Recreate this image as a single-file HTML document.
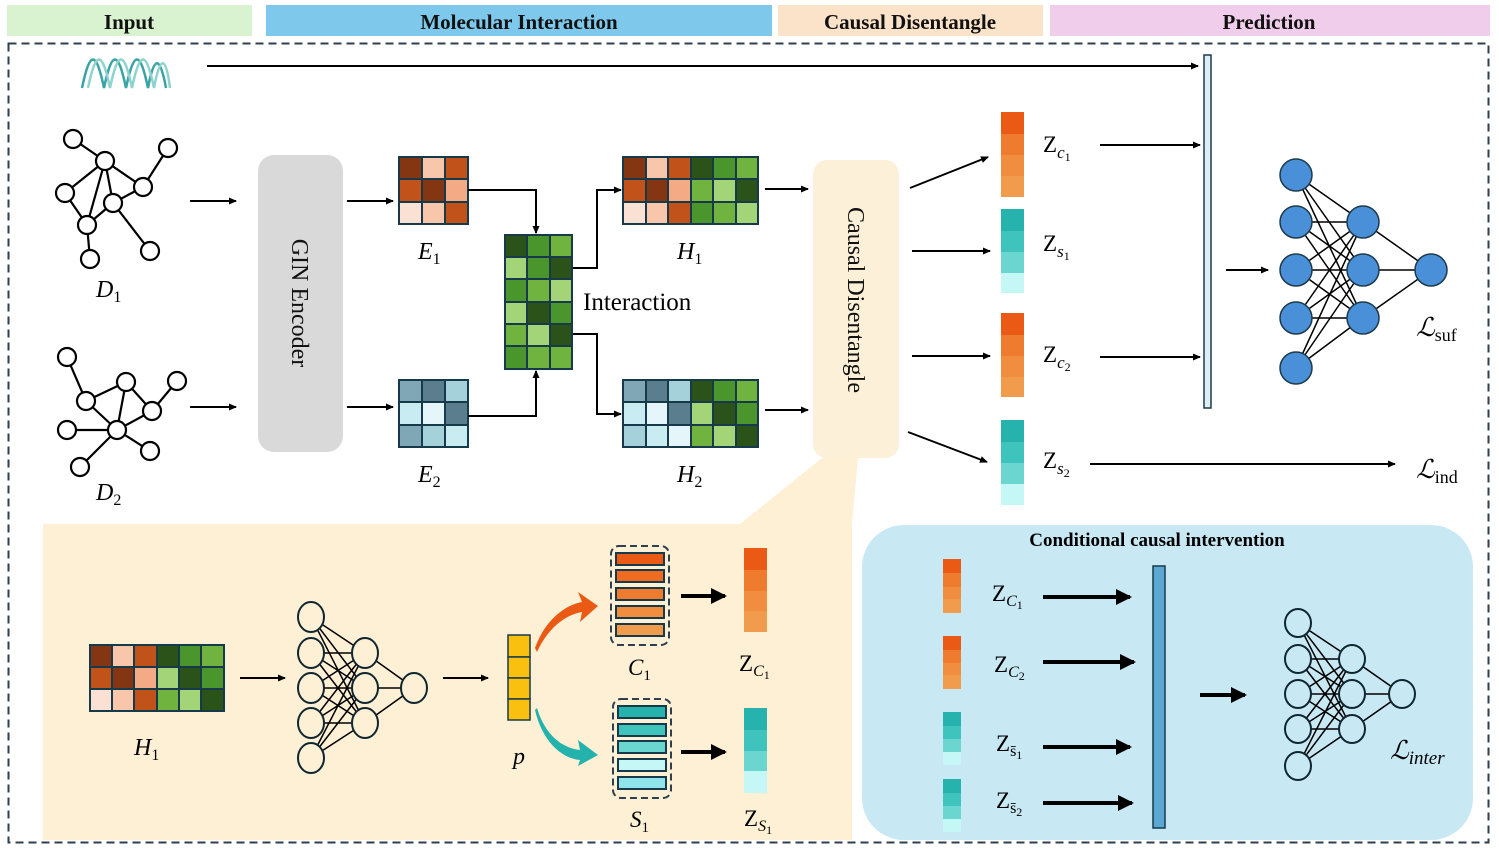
<!DOCTYPE html>
<html><head><meta charset="utf-8"><style>
html,body{margin:0;padding:0;background:#fff;}
svg{display:block;}
text{font-family:"Liberation Serif",serif;}
.it{font-style:italic;}
</style></head><body>
<svg width="1499" height="856" viewBox="0 0 1499 856" xmlns="http://www.w3.org/2000/svg">
<defs>
<marker id="a" markerWidth="8" markerHeight="8" refX="7" refY="4" orient="auto" markerUnits="userSpaceOnUse"><path d="M0,0.5 L8,4 L0,7.5 z" fill="#000"/></marker>
<marker id="b" markerWidth="16" markerHeight="16" refX="14" refY="8" orient="auto" markerUnits="userSpaceOnUse"><path d="M0,0 L16,8 L0,16 z" fill="#000"/></marker>
</defs>
<!-- header -->
<rect x="7" y="5" width="245" height="31" fill="#d9f2d0"/>
<rect x="266" y="5" width="506" height="31" fill="#7ec8ec"/>
<rect x="778" y="5" width="265" height="31" fill="#fbe3c9"/>
<rect x="1050" y="5" width="440" height="31" fill="#f0cdea"/>
<g font-weight="bold" font-size="21" text-anchor="middle" fill="#111">
<text x="129" y="29">Input</text><text x="519" y="29">Molecular Interaction</text>
<text x="910" y="29">Causal Disentangle</text><text x="1269" y="29">Prediction</text></g>
<rect x="8.5" y="43.5" width="1480" height="799" fill="none" stroke="#2f3f4f" stroke-width="2" stroke-dasharray="8,5"/>

<!-- bottom peach panel -->
<path d="M43,524 L740,524 L822,458 L858,458 L852,524 L852,840 L43,840 Z" fill="#fdf0d5"/>

<!-- wave -->
<g fill="none" stroke-width="2.5">
<path d="M82,88 C90,50 96,50 104,88 C112,50 118,50 126,88 C134,50 140,50 148,88 C154,55 160,55 166,88" stroke="#3aa3a3"/>
<path d="M88,88 C96,50 102,50 110,88 C118,50 124,50 132,88 C140,50 146,50 154,88 C160,55 166,55 170,88" stroke="#8fd3cf"/>
</g>
<line x1="207" y1="66" x2="1198" y2="66" stroke="#000" stroke-width="2" marker-end="url(#a)"/>

<!-- graphs -->
<g stroke="#000" stroke-width="2.2" fill="#fff">
<path d="M73,139L105,161 M105,161L65,193 M105,161L87,225 M105,161L113,203 M105,161L143,187 M143,187L168,148 M65,193L87,225 M87,225L90,259 M87,225L113,203 M113,203L143,187 M113,203L150,251"/>
<circle cx="73" cy="139" r="9"/><circle cx="105" cy="161" r="9"/><circle cx="168" cy="148" r="9"/><circle cx="65" cy="193" r="9"/><circle cx="143" cy="187" r="9"/><circle cx="113" cy="203" r="9"/><circle cx="87" cy="225" r="9"/><circle cx="90" cy="259" r="9"/><circle cx="150" cy="251" r="9"/>
<path d="M67,357L86,401 M86,401L126,382 M86,401L117,430 M126,382L117,430 M126,382L152,411 M152,411L177,381 M117,430L152,411 M67,430L117,430 M117,430L150,451 M117,430L80,467"/>
<circle cx="67" cy="357" r="9"/><circle cx="86" cy="401" r="9"/><circle cx="126" cy="382" r="9"/><circle cx="177" cy="381" r="9"/><circle cx="152" cy="411" r="9"/><circle cx="67" cy="430" r="9"/><circle cx="117" cy="430" r="9"/><circle cx="150" cy="451" r="9"/><circle cx="80" cy="467" r="9"/>
</g>
<text x="96" y="297" font-size="24" class="it">D<tspan font-size="16" dy="5" font-style="normal">1</tspan></text>
<text x="96" y="500" font-size="24" class="it">D<tspan font-size="16" dy="5" font-style="normal">2</tspan></text>

<g stroke="#000" stroke-width="2" marker-end="url(#a)">
<line x1="190" y1="201" x2="236" y2="201"/><line x1="190" y1="407" x2="236" y2="407"/>
<line x1="347" y1="201" x2="393" y2="201"/><line x1="347" y1="407" x2="393" y2="407"/>
<line x1="765" y1="189" x2="808" y2="189"/><line x1="765" y1="410" x2="808" y2="410"/>
</g>
<!-- GIN -->
<rect x="258" y="155" width="85" height="297" rx="16" fill="#d9d9d9"/>
<text transform="translate(292,303) rotate(90)" text-anchor="middle" font-size="24" fill="#111">GIN Encoder</text>

<!-- E1 -->
<g stroke="#173a4a" stroke-width="2">
<rect x="399" y="157" width="23" height="22" fill="#843511"/><rect x="422" y="157" width="23" height="22" fill="#f7c6ab"/><rect x="445" y="157" width="23" height="22" fill="#c0521a"/>
<rect x="399" y="179" width="23" height="23" fill="#c0521a"/><rect x="422" y="179" width="23" height="23" fill="#843511"/><rect x="445" y="179" width="23" height="23" fill="#f3aa85"/>
<rect x="399" y="202" width="23" height="22" fill="#fbe1d4"/><rect x="422" y="202" width="23" height="22" fill="#f7c6ab"/><rect x="445" y="202" width="23" height="22" fill="#c0521a"/>
<!-- E2 -->
<rect x="399" y="380" width="23" height="22" fill="#7fa7b6"/><rect x="422" y="380" width="23" height="22" fill="#5b7e8f"/><rect x="445" y="380" width="23" height="22" fill="#a5d2da"/>
<rect x="399" y="402" width="23" height="23" fill="#c9ecf2"/><rect x="422" y="402" width="23" height="23" fill="#e4f6f9"/><rect x="445" y="402" width="23" height="23" fill="#5b7e8f"/>
<rect x="399" y="425" width="23" height="22" fill="#7fa7b6"/><rect x="422" y="425" width="23" height="22" fill="#a5d2da"/><rect x="445" y="425" width="23" height="22" fill="#c9ecf2"/>
<!-- Interaction -->
<rect x="505" y="235" width="22" height="22" fill="#2b5218"/><rect x="527" y="235" width="23" height="22" fill="#4b962c"/><rect x="550" y="235" width="22" height="22" fill="#70b43f"/>
<rect x="505" y="257" width="22" height="22" fill="#a3d477"/><rect x="527" y="257" width="23" height="22" fill="#4b962c"/><rect x="550" y="257" width="22" height="22" fill="#2b5218"/>
<rect x="505" y="279" width="22" height="23" fill="#4b962c"/><rect x="527" y="279" width="23" height="23" fill="#70b43f"/><rect x="550" y="279" width="22" height="23" fill="#a3d477"/>
<rect x="505" y="302" width="22" height="22" fill="#a3d477"/><rect x="527" y="302" width="23" height="22" fill="#2b5218"/><rect x="550" y="302" width="22" height="22" fill="#4b962c"/>
<rect x="505" y="324" width="22" height="22" fill="#70b43f"/><rect x="527" y="324" width="23" height="22" fill="#a3d477"/><rect x="550" y="324" width="22" height="22" fill="#2b5218"/>
<rect x="505" y="346" width="22" height="23" fill="#4b962c"/><rect x="527" y="346" width="23" height="23" fill="#70b43f"/><rect x="550" y="346" width="22" height="23" fill="#70b43f"/>
<!-- H1 -->
<rect x="623" y="157" width="23" height="22" fill="#843511"/><rect x="646" y="157" width="22" height="22" fill="#f7c6ab"/><rect x="668" y="157" width="23" height="22" fill="#c0521a"/><rect x="691" y="157" width="22" height="22" fill="#2b5218"/><rect x="713" y="157" width="23" height="22" fill="#4b962c"/><rect x="736" y="157" width="22" height="22" fill="#70b43f"/>
<rect x="623" y="179" width="23" height="23" fill="#c0521a"/><rect x="646" y="179" width="22" height="23" fill="#843511"/><rect x="668" y="179" width="23" height="23" fill="#f3aa85"/><rect x="691" y="179" width="22" height="23" fill="#70b43f"/><rect x="713" y="179" width="23" height="23" fill="#a3d477"/><rect x="736" y="179" width="22" height="23" fill="#2b5218"/>
<rect x="623" y="202" width="23" height="22" fill="#fbe1d4"/><rect x="646" y="202" width="22" height="22" fill="#f7c6ab"/><rect x="668" y="202" width="23" height="22" fill="#c0521a"/><rect x="691" y="202" width="22" height="22" fill="#4b962c"/><rect x="713" y="202" width="23" height="22" fill="#70b43f"/><rect x="736" y="202" width="22" height="22" fill="#a3d477"/>
<!-- H2 -->
<rect x="623" y="380" width="23" height="22" fill="#7fa7b6"/><rect x="646" y="380" width="22" height="22" fill="#5b7e8f"/><rect x="668" y="380" width="23" height="22" fill="#a5d2da"/><rect x="691" y="380" width="22" height="22" fill="#2b5218"/><rect x="713" y="380" width="23" height="22" fill="#4b962c"/><rect x="736" y="380" width="22" height="22" fill="#70b43f"/>
<rect x="623" y="402" width="23" height="23" fill="#c9ecf2"/><rect x="646" y="402" width="22" height="23" fill="#e4f6f9"/><rect x="668" y="402" width="23" height="23" fill="#5b7e8f"/><rect x="691" y="402" width="22" height="23" fill="#a3d477"/><rect x="713" y="402" width="23" height="23" fill="#2b5218"/><rect x="736" y="402" width="22" height="23" fill="#4b962c"/>
<rect x="623" y="425" width="23" height="22" fill="#a5d2da"/><rect x="646" y="425" width="22" height="22" fill="#c9ecf2"/><rect x="668" y="425" width="23" height="22" fill="#e4f6f9"/><rect x="691" y="425" width="22" height="22" fill="#70b43f"/><rect x="713" y="425" width="23" height="22" fill="#a3d477"/><rect x="736" y="425" width="22" height="22" fill="#2b5218"/>
<!-- bottom H1 -->
<rect x="90" y="645" width="22" height="22" fill="#843511"/><rect x="112" y="645" width="22" height="22" fill="#f7c6ab"/><rect x="134" y="645" width="23" height="22" fill="#c0521a"/><rect x="157" y="645" width="22" height="22" fill="#2b5218"/><rect x="179" y="645" width="22" height="22" fill="#4b962c"/><rect x="201" y="645" width="23" height="22" fill="#70b43f"/>
<rect x="90" y="667" width="22" height="22" fill="#c0521a"/><rect x="112" y="667" width="22" height="22" fill="#843511"/><rect x="134" y="667" width="23" height="22" fill="#f3aa85"/><rect x="157" y="667" width="22" height="22" fill="#a3d477"/><rect x="179" y="667" width="22" height="22" fill="#2b5218"/><rect x="201" y="667" width="23" height="22" fill="#4b962c"/>
<rect x="90" y="689" width="22" height="22" fill="#fbe1d4"/><rect x="112" y="689" width="22" height="22" fill="#f7c6ab"/><rect x="134" y="689" width="23" height="22" fill="#c0521a"/><rect x="157" y="689" width="22" height="22" fill="#70b43f"/><rect x="179" y="689" width="22" height="22" fill="#a3d477"/><rect x="201" y="689" width="23" height="22" fill="#2b5218"/>
</g>
<g font-size="24" class="it">
<text x="418" y="259">E<tspan font-size="16" dy="5" font-style="normal">1</tspan></text>
<text x="418" y="482">E<tspan font-size="16" dy="5" font-style="normal">2</tspan></text>
<text x="677" y="259">H<tspan font-size="16" dy="5" font-style="normal">1</tspan></text>
<text x="677" y="482">H<tspan font-size="16" dy="5" font-style="normal">2</tspan></text>
<text x="134" y="755">H<tspan font-size="16" dy="5" font-style="normal">1</tspan></text>
</g>
<text x="583" y="310" font-size="25">Interaction</text>
<g stroke="#000" stroke-width="2" fill="none" marker-end="url(#a)">
<path d="M468,190 L536,190 L536,233"/>
<path d="M468,416 L536,416 L536,371"/>
<path d="M573,268 L597,268 L597,190 L621,190"/>
<path d="M573,334 L597,334 L597,414 L621,414"/>
</g>

<!-- Causal Disentangle box -->
<rect x="813" y="160" width="86" height="298" rx="14" fill="#fdf0d8"/>
<text transform="translate(848,300) rotate(90)" text-anchor="middle" font-size="24" fill="#111">Causal Disentangle</text>
<g stroke="#000" stroke-width="2" marker-end="url(#a)">
<line x1="910" y1="188" x2="988" y2="157"/><line x1="912" y1="251" x2="990" y2="251"/>
<line x1="912" y1="356" x2="990" y2="356"/><line x1="908" y1="432" x2="987" y2="462"/>
<line x1="1100" y1="145" x2="1200" y2="145"/><line x1="1100" y1="357" x2="1200" y2="357"/>
<line x1="1090" y1="464" x2="1395" y2="464"/><line x1="1226" y1="270" x2="1268" y2="270"/>
</g>
<!-- Z bars top -->
<g>
<rect x="1001" y="112" width="23" height="22" fill="#ea5a14"/><rect x="1001" y="134" width="23" height="21" fill="#ef7b2e"/><rect x="1001" y="155" width="23" height="21" fill="#f08d3e"/><rect x="1001" y="176" width="23" height="21" fill="#f19c4c"/>
<rect x="1001" y="209" width="23" height="22" fill="#26b3ad"/><rect x="1001" y="231" width="23" height="21" fill="#3fc3bd"/><rect x="1001" y="252" width="23" height="21" fill="#6bd5cf"/><rect x="1001" y="273" width="23" height="20" fill="#c4f7f5"/>
<rect x="1001" y="313" width="23" height="22" fill="#ea5a14"/><rect x="1001" y="335" width="23" height="21" fill="#ef7b2e"/><rect x="1001" y="356" width="23" height="21" fill="#f08d3e"/><rect x="1001" y="377" width="23" height="20" fill="#f19c4c"/>
<rect x="1001" y="420" width="23" height="22" fill="#26b3ad"/><rect x="1001" y="442" width="23" height="21" fill="#3fc3bd"/><rect x="1001" y="463" width="23" height="21" fill="#6bd5cf"/><rect x="1001" y="484" width="23" height="21" fill="#c4f7f5"/>
</g>
<g font-size="23">
<text x="1043" y="152">Z<tspan font-size="17" dy="6" class="it">c</tspan><tspan font-size="12" dy="3">1</tspan></text>
<text x="1043" y="251">Z<tspan font-size="17" dy="6" class="it">s</tspan><tspan font-size="12" dy="3">1</tspan></text>
<text x="1043" y="362">Z<tspan font-size="17" dy="6" class="it">c</tspan><tspan font-size="12" dy="3">2</tspan></text>
<text x="1043" y="468">Z<tspan font-size="17" dy="6" class="it">s</tspan><tspan font-size="12" dy="3">2</tspan></text>
<text x="1416" y="336" class="it" font-size="26">ℒ<tspan font-size="18" dy="5" font-style="normal">suf</tspan></text>
<text x="1416" y="478" class="it" font-size="26">ℒ<tspan font-size="18" dy="5" font-style="normal">ind</tspan></text>
</g>
<rect x="1204" y="55" width="7" height="353" fill="#ddeef7" stroke="#1d3a4a" stroke-width="1.5"/>

<!-- top NN -->
<g stroke="#000" stroke-width="1.5">
<path d="M1296,175L1363,222M1296,175L1363,270M1296,175L1363,318M1296,222L1363,222M1296,222L1363,270M1296,222L1363,318M1296,270L1363,222M1296,270L1363,270M1296,270L1363,318M1296,318L1363,222M1296,318L1363,270M1296,318L1363,318M1296,368L1363,222M1296,368L1363,270M1296,368L1363,318M1363,222L1431,270M1363,270L1431,270M1363,318L1431,270"/>
</g>
<g fill="#4a90d9" stroke="#1d3a4a" stroke-width="1.5">
<circle cx="1296" cy="175" r="16"/><circle cx="1296" cy="222" r="16"/><circle cx="1296" cy="270" r="16"/><circle cx="1296" cy="318" r="16"/><circle cx="1296" cy="368" r="16"/>
<circle cx="1363" cy="222" r="16"/><circle cx="1363" cy="270" r="16"/><circle cx="1363" cy="318" r="16"/><circle cx="1431" cy="270" r="16"/>
</g>

<!-- bottom-left NN -->
<g stroke="#000" stroke-width="1.5">
<path d="M311,617L365,653M311,617L365,688M311,617L365,723M311,653L365,653M311,653L365,688M311,653L365,723M311,688L365,653M311,688L365,688M311,688L365,723M311,723L365,653M311,723L365,688M311,723L365,723M311,758L365,653M311,758L365,688M311,758L365,723M365,653L414,688M365,688L414,688M365,723L414,688"/>
</g>
<g fill="#fdf0d5" stroke="#0f2630" stroke-width="2">
<ellipse cx="311" cy="617" rx="13" ry="15"/><ellipse cx="311" cy="653" rx="13" ry="15"/><ellipse cx="311" cy="688" rx="13" ry="15"/><ellipse cx="311" cy="723" rx="13" ry="15"/><ellipse cx="311" cy="758" rx="13" ry="15"/>
<ellipse cx="365" cy="653" rx="13" ry="15"/><ellipse cx="365" cy="688" rx="13" ry="15"/><ellipse cx="365" cy="723" rx="13" ry="15"/><ellipse cx="414" cy="688" rx="13" ry="15"/>
</g>
<g stroke="#000" stroke-width="2" marker-end="url(#a)">
<line x1="240" y1="678" x2="285" y2="678"/><line x1="443" y1="678" x2="488" y2="678"/>
</g>
<!-- p -->
<g fill="#f9c00f" stroke="#173a4a" stroke-width="1.5">
<rect x="508" y="635" width="22" height="22"/><rect x="508" y="657" width="22" height="21"/><rect x="508" y="678" width="22" height="21"/><rect x="508" y="699" width="22" height="21"/>
</g>
<text x="513" y="764" font-size="24" class="it">p</text>
<!-- curved arrows -->
<path d="M535,648 C545,620 565,605 582,602 L578,592 L598,606 L580,622 L582,612 C565,615 548,628 537,652 Z" fill="#ea5a14"/>
<path d="M537,708 C545,735 562,748 580,750 L578,740 L598,755 L578,766 L580,760 C560,758 542,740 535,710 Z" fill="#23b2ac"/>
<!-- C1 S1 -->
<rect x="611" y="546" width="58" height="99" rx="8" fill="none" stroke="#2f3f4f" stroke-width="2" stroke-dasharray="7,4"/>
<rect x="613" y="699" width="58" height="99" rx="8" fill="none" stroke="#2f3f4f" stroke-width="2" stroke-dasharray="7,4"/>
<g stroke="#173a4a" stroke-width="2">
<rect x="616" y="553" width="48" height="12" fill="#ea5a14"/><rect x="616" y="570" width="48" height="12" fill="#ed6c22"/><rect x="616" y="588" width="48" height="12" fill="#ef7b2e"/><rect x="616" y="606" width="48" height="12" fill="#f08d3e"/><rect x="616" y="624" width="48" height="12" fill="#f19c4c"/>
<rect x="618" y="706" width="48" height="12" fill="#26b3ad"/><rect x="618" y="724" width="48" height="12" fill="#3fc3bd"/><rect x="618" y="741" width="48" height="12" fill="#6bd5cf"/><rect x="618" y="759" width="48" height="12" fill="#c4f7f5"/><rect x="618" y="777" width="48" height="12" fill="#8fe3ea"/>
</g>
<g stroke="#000" stroke-width="4" marker-end="url(#b)">
<line x1="681" y1="596" x2="725" y2="596"/><line x1="681" y1="752" x2="725" y2="752"/>
</g>
<rect x="744" y="548" width="23" height="22" fill="#ea5a14"/><rect x="744" y="570" width="23" height="21" fill="#ef7b2e"/><rect x="744" y="591" width="23" height="20" fill="#f08d3e"/><rect x="744" y="611" width="23" height="21" fill="#f19c4c"/>
<rect x="744" y="708" width="23" height="22" fill="#26b3ad"/><rect x="744" y="730" width="23" height="21" fill="#3fc3bd"/><rect x="744" y="751" width="23" height="20" fill="#6bd5cf"/><rect x="744" y="771" width="23" height="22" fill="#c4f7f5"/>
<g font-size="23">
<text x="628" y="675" class="it">C<tspan font-size="15" dy="5" font-style="normal">1</tspan></text>
<text x="630" y="827" class="it">S<tspan font-size="15" dy="5" font-style="normal">1</tspan></text>
<text x="739" y="671">Z<tspan font-size="16" dy="5" class="it">C</tspan><tspan font-size="12" dy="3">1</tspan></text>
<text x="744" y="826">Z<tspan font-size="16" dy="5" class="it">S</tspan><tspan font-size="12" dy="3">1</tspan></text>
</g>

<!-- bottom right panel -->
<rect x="862" y="525" width="611" height="315" rx="42" fill="#c8e9f4"/>
<text x="1157" y="546" text-anchor="middle" font-weight="bold" font-size="19">Conditional causal intervention</text>
<rect x="943" y="559" width="18" height="14" fill="#ea5a14"/><rect x="943" y="573" width="18" height="14" fill="#ef7b2e"/><rect x="943" y="587" width="18" height="12" fill="#f08d3e"/><rect x="943" y="599" width="18" height="14" fill="#f19c4c"/>
<rect x="943" y="636" width="18" height="14" fill="#ea5a14"/><rect x="943" y="650" width="18" height="13" fill="#ef7b2e"/><rect x="943" y="663" width="18" height="12" fill="#f08d3e"/><rect x="943" y="675" width="18" height="14" fill="#f19c4c"/>
<rect x="943" y="712" width="18" height="14" fill="#26b3ad"/><rect x="943" y="726" width="18" height="13" fill="#3fc3bd"/><rect x="943" y="739" width="18" height="13" fill="#6bd5cf"/><rect x="943" y="752" width="18" height="13" fill="#c4f7f5"/>
<rect x="943" y="779" width="18" height="14" fill="#26b3ad"/><rect x="943" y="793" width="18" height="13" fill="#3fc3bd"/><rect x="943" y="806" width="18" height="13" fill="#6bd5cf"/><rect x="943" y="819" width="18" height="13" fill="#c4f7f5"/>
<g font-size="23">
<text x="992" y="601">Z<tspan font-size="16" dy="5" class="it">C</tspan><tspan font-size="12" dy="3">1</tspan></text>
<text x="994" y="672">Z<tspan font-size="16" dy="5" class="it">C</tspan><tspan font-size="12" dy="3">2</tspan></text>
<text x="996" y="751">Z<tspan font-size="16" dy="5">s̄</tspan><tspan font-size="12" dy="3">1</tspan></text>
<text x="996" y="808">Z<tspan font-size="16" dy="5">s̄</tspan><tspan font-size="12" dy="3">2</tspan></text>
<text x="1390" y="759" class="it" font-size="26">ℒ<tspan font-size="19" dy="5">inter</tspan></text>
</g>
<g stroke="#000" stroke-width="4" marker-end="url(#b)">
<line x1="1043" y1="597" x2="1130" y2="597"/><line x1="1043" y1="662" x2="1134" y2="662"/>
<line x1="1043" y1="747" x2="1130" y2="747"/><line x1="1043" y1="803" x2="1132" y2="803"/>
<line x1="1200" y1="695" x2="1245" y2="695"/>
</g>
<rect x="1153" y="566" width="12" height="262" fill="#5aa8d4" stroke="#173a4a" stroke-width="1.5"/>
<g stroke="#000" stroke-width="1.5">
<path d="M1298,623L1352,659M1298,623L1352,694M1298,623L1352,729M1298,659L1352,659M1298,659L1352,694M1298,659L1352,729M1298,694L1352,659M1298,694L1352,694M1298,694L1352,729M1298,729L1352,659M1298,729L1352,694M1298,729L1352,729M1298,766L1352,659M1298,766L1352,694M1298,766L1352,729M1352,659L1402,694M1352,694L1402,694M1352,729L1402,694"/>
</g>
<g fill="#c8e9f4" stroke="#0f2630" stroke-width="2">
<ellipse cx="1298" cy="623" rx="13" ry="14"/><ellipse cx="1298" cy="659" rx="13" ry="14"/><ellipse cx="1298" cy="694" rx="13" ry="14"/><ellipse cx="1298" cy="729" rx="13" ry="14"/><ellipse cx="1298" cy="766" rx="13" ry="14"/>
<ellipse cx="1352" cy="659" rx="13" ry="14"/><ellipse cx="1352" cy="694" rx="13" ry="14"/><ellipse cx="1352" cy="729" rx="13" ry="14"/><ellipse cx="1402" cy="694" rx="13" ry="14"/>
</g>
</svg>
</body></html>
